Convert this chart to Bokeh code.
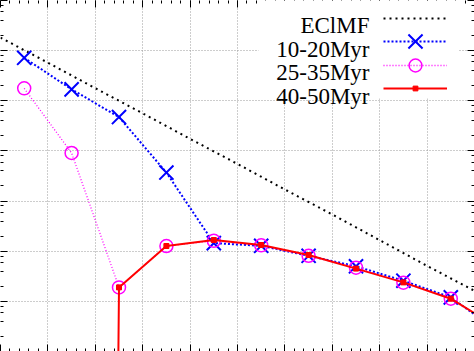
import numpy as np
from bokeh.plotting import figure
from bokeh.models import (LinearAxis, LogAxis, FixedTicker, SingleIntervalTicker,
                          CustomJSTickFormatter, Legend, LegendItem, Label, BoxAnnotation)
from bokeh.core.properties import value
from bokeh.embed import file_html
from bokeh.resources import INLINE

# ---- data ----
log_mass = [2.25, 2.75, 3.25, 3.75, 4.25, 4.75, 5.25, 5.75, 6.25, 6.75, 7.25]
eclmf_x = [2.0, 2.5, 3.0, 3.5, 4.0, 4.5, 5.0, 5.5, 6.0, 6.5, 7.0]
eclmf_y = [18200, 5750, 1780, 562, 174, 55, 17.0, 5.4, 1.66, 0.51, 0.162]
y_10_20 = [7190, 1690, 474, 37.0, 1.45, 1.28, 0.81, 0.50, 0.258, 0.120, 0.025]
y_25_35 = [1770, 91, 0.19, 1.27, 1.61, 1.31, 0.81, 0.47, 0.236, 0.113, 0.029]
y_40_50 = [0, 0, 0.19, 1.27, 1.67, 1.33, 0.84, 0.45, 0.239, 0.113, 0.030]
series_labels = ["EClMF", "10-20Myr", "25-35Myr", "40-50Myr"]

W, H = 474, 351
p = figure(width=W, height=H, x_range=(2.0, 7.0), y_range=(1e-2, 1e5),
           y_axis_type="log", output_backend="svg", toolbar_location=None,
           min_border=0, outline_line_color=None, background_fill_color="white")

xt = SingleIntervalTicker(interval=0.5, num_minor_ticks=5)
ymaj = [10.0 ** k for k in range(-2, 6)]
ymin = [m * 10.0 ** k for k in range(-2, 5) for m in (2, 4, 6, 8)]
yt = FixedTicker(ticks=ymaj, minor_ticks=ymin)

p.add_layout(LinearAxis(), "above")
p.add_layout(LogAxis(), "right")
blank = CustomJSTickFormatter(code="return ''")
for ax in p.xaxis:
    ax.ticker = xt
for ax in p.yaxis:
    ax.ticker = yt
for ax in p.axis:
    ax.formatter = blank
    ax.axis_line_color = None
    ax.major_tick_in = 7
    ax.major_tick_out = 0
    ax.minor_tick_in = 3
    ax.minor_tick_out = 0
    ax.major_tick_line_color = "black"
    ax.minor_tick_line_color = "black"
    ax.major_label_standoff = 0
    ax.major_label_text_font_size = "1px"

p.xgrid.ticker = xt
p.ygrid.ticker = yt
p.grid.grid_line_color = "#9a9a9a"
p.grid.grid_line_dash = "1 2"
p.grid.grid_line_width = 1

# ---- series ----
r_ec = p.line(eclmf_x, eclmf_y, line_color="black", line_width=2, line_dash="2 4")

r_b_l = p.line(log_mass, y_10_20, line_color="#0000ff", line_width=2, line_dash="2 2")
r_b_m = p.scatter(log_mass, y_10_20, marker="x", size=20, line_color="#0000ff", line_width=2)

r_m_l = p.line(log_mass, y_25_35, line_color="#ff00ff", line_width=1.3, line_dash="1 2")
r_m_m = p.scatter(log_mass, y_25_35, marker="circle", size=13, fill_color=None,
                  line_color="#ff00ff", line_width=1.5)

# zero counts on a log axis: drawn at a vanishing floor, as in the original (line drops off)
red = np.array(y_40_50, dtype=float)
red_line = np.where(red > 0, red, 1e-100)
mask = red > 0
r_r_l = p.line(log_mass, red_line, line_color="#ff0000", line_width=2)
r_r_m = p.scatter(np.array(log_mass)[mask], red[mask], marker="square", size=5,
                  fill_color="#ff0000", line_color="#ff0000")

# ---- key (text on the left, samples on the right) ----
box = BoxAnnotation(left=258, right=458, top=H, bottom=H - 98,
                    left_units="screen", right_units="screen",
                    top_units="screen", bottom_units="screen",
                    fill_color="white", fill_alpha=1.0, line_color=None)
p.add_layout(box)

centers = [17.7, 41.2, 64.5, 88.0]
gheights = [20, 50, 32, 12]
rend_sets = [[r_ec], [r_b_l, r_b_m], [r_m_l, r_m_m], [r_r_l, r_r_m]]
for c, gh, rs in zip(centers, gheights, rend_sets):
    lg = Legend(items=[LegendItem(label="", renderers=rs)],
                location=(383, H - (c + gh / 2)), glyph_width=64, glyph_height=gh,
                padding=0, margin=0, spacing=0, label_width=0, label_height=0,
                label_standoff=0, label_text_font_size="1px",
                border_line_color=None, background_fill_alpha=0)
    p.add_layout(lg, "center")

for c, t in zip(centers, series_labels):
    p.add_layout(Label(x=369, y=H - (c + 7.6), x_units="screen", y_units="screen",
                       text=t, text_align="right", text_baseline="alphabetic",
                       text_font="Liberation Serif", text_font_size="23px",
                       text_color="black"))

open("out.html", "w").write(file_html(p, INLINE))
